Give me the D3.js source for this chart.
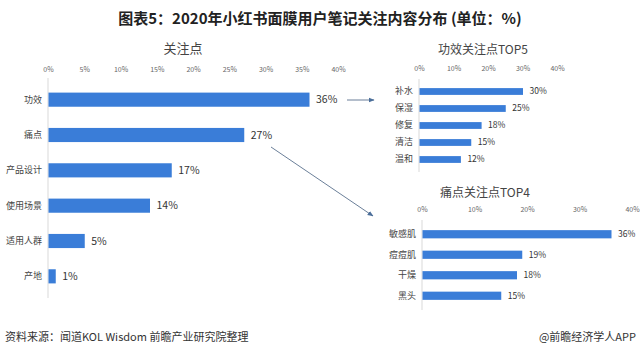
<!DOCTYPE html>
<html><head><meta charset="utf-8">
<script src="https://cdn.jsdelivr.net/npm/d3@7"></script>
<style>body{margin:0;background:#fff}svg{display:block}text{font-family:"Noto Sans CJK SC","Noto Sans",sans-serif}</style>
</head><body><svg id="c" width="640" height="357"></svg>
<script>
const mainCats = ["功效","痛点","产品设计","使用场景","适用人群","产地"];
const mainVals = [36,27,17,14,5,1];
const effCats = ["补水","保湿","修复","清洁","温和"];
const effVals = [30,25,18,15,12];
const painCats = ["敏感肌","痘痘肌","干燥","黑头"];
const painVals = [36,19,18,15];
const mainTicks = [0,5,10,15,20,25,30,35,40];
const smallTicks = [0,10,20,30,40];

const svg = d3.select("#c");
const BLUE = "#3a7dd8";

svg.append("text").attr("x",320).attr("y",24).attr("text-anchor","middle")
  .attr("font-size",15).attr("font-weight","bold").attr("fill","#222")
  .text("图表5：2020年小红书面膜用户笔记关注内容分布 (单位：%)");

function panel(o){
  const x = d3.scaleLinear().domain([0,40]).range([o.x0,o.x1]);
  const y = d3.scaleBand().domain(o.cats).range([o.y0,o.y1]).paddingInner(o.pad).paddingOuter(o.pad/2);
  const g = svg.append("g");
  g.append("text").attr("x",o.tx).attr("y",o.ty).attr("text-anchor","middle")
    .attr("font-size",o.tfs).attr("fill","#444").text(o.title);
  const ax = g.append("g").attr("transform",`translate(0,${o.tickY})`)
    .call(d3.axisTop(x).tickValues(o.ticks).tickSize(0).tickFormat(d=>d+"%"));
  ax.select(".domain").remove();
  ax.selectAll("text").attr("font-size",o.tkfs).attr("fill","#666").attr("dy",0);
  g.append("line").attr("x1",x(0)).attr("x2",x(0)).attr("y1",o.y0-4).attr("y2",o.y1+4)
    .attr("stroke","#d9d9d9").attr("stroke-width",1);
  const ay = g.append("g").attr("transform",`translate(${x(0)},0)`)
    .call(d3.axisLeft(y).tickSize(0).tickPadding(6));
  ay.select(".domain").remove();
  ay.selectAll("text").attr("font-size",o.cfs).attr("fill","#444");
  g.selectAll("rect.b").data(o.vals).enter().append("rect")
    .attr("x",x(0)+0.5).attr("y",(d,i)=>y(o.cats[i]))
    .attr("width",d=>x(d)-x(0)).attr("height",y.bandwidth()).attr("fill",BLUE);
  g.selectAll("text.v").data(o.vals).enter().append("text")
    .attr("x",d=>x(d)+o.lp).attr("y",(d,i)=>y(o.cats[i])+y.bandwidth()/2)
    .attr("dy","0.35em").attr("font-size",o.vfs).attr("fill","#333").text(d=>d+"%");
}

panel({cats:mainCats,vals:mainVals,x0:48,x1:338,y0:82,y1:294,pad:0.6,
  title:"关注点",tx:183,ty:53,tfs:13,tickY:75,ticks:mainTicks,tkfs:7,cfs:9,vfs:10.5,lp:7});
panel({cats:effCats,vals:effVals,x0:419,x1:557,y0:83,y1:168,pad:0.6,
  title:"功效关注点TOP5",tx:483,ty:54,tfs:12,tickY:74,ticks:smallTicks,tkfs:7,cfs:9,vfs:8.5,lp:7});
panel({cats:painCats,vals:painVals,x0:422,x1:632,y0:224,y1:306,pad:0.6,
  title:"痛点关注点TOP4",tx:485,ty:197,tfs:12,tickY:215,ticks:smallTicks,tkfs:7,cfs:9,vfs:8.5,lp:7});

const defs = svg.append("defs");
defs.append("marker").attr("id","ah").attr("viewBox","0 0 10 10").attr("refX",9).attr("refY",5)
  .attr("markerWidth",6).attr("markerHeight",6).attr("orient","auto")
  .append("path").attr("d","M0,1L10,5L0,9Z").attr("fill","#4a6e9a");
svg.append("line").attr("x1",347).attr("y1",100).attr("x2",374).attr("y2",100)
  .attr("stroke","#6b7f99").attr("stroke-width",1).attr("marker-end","url(#ah)");
svg.append("line").attr("x1",271).attr("y1",147).attr("x2",373).attr("y2",216)
  .attr("stroke","#6b7f99").attr("stroke-width",1).attr("marker-end","url(#ah)");

svg.append("text").attr("x",5).attr("y",341).attr("font-size",11).attr("fill","#333")
  .text("资料来源：闻道KOL Wisdom 前瞻产业研究院整理");
svg.append("text").attr("x",636).attr("y",341).attr("text-anchor","end").attr("font-size",11).attr("fill","#333")
  .text("@前瞻经济学人APP");
</script></body></html>
